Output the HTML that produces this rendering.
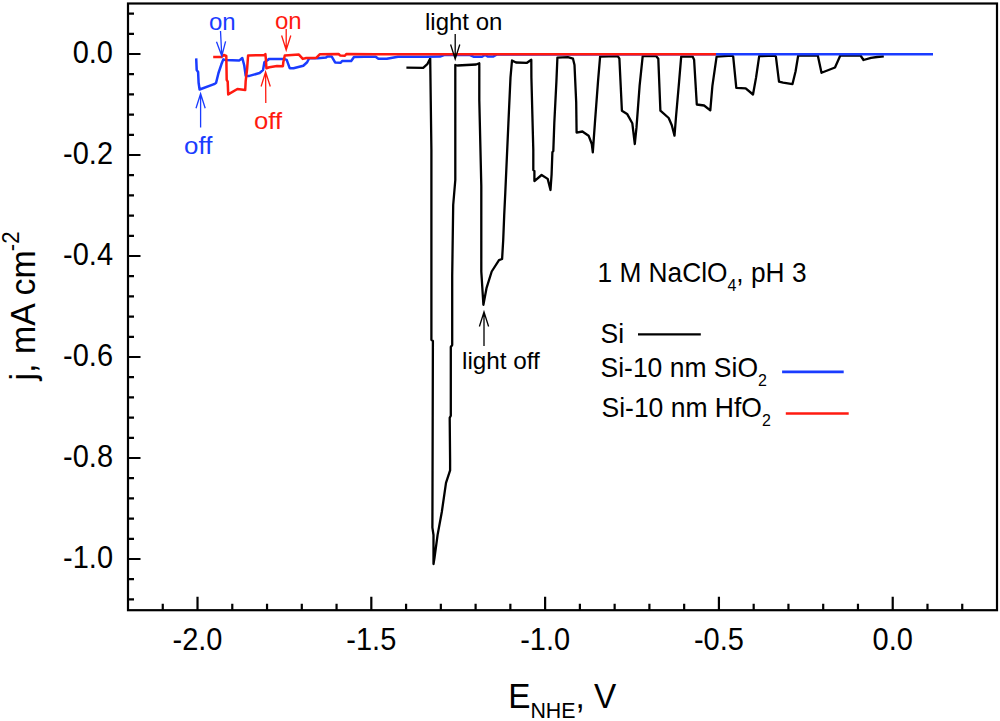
<!DOCTYPE html>
<html><head><meta charset="utf-8"><style>
html,body{margin:0;padding:0;background:#fff;}
svg{display:block;}
text{font-family:"Liberation Sans",sans-serif;}
</style></head><body>
<svg width="1000" height="721" viewBox="0 0 1000 721">
<rect width="1000" height="721" fill="#fff"/>
<polyline points="406.4,67.7 423.2,67.9 427.3,64.2 430.2,58.4 431.4,150.0 431.4,339.8 432.9,341.0 432.4,527.6 433.5,535.0 433.5,564.0 434.5,557.8 437.6,534.9 441.8,512.0 446.0,482.9 450.1,470.4 450.1,460.0 449.7,417.8 450.8,415.7 450.8,347.0 452.2,345.0 452.2,275.7 453.2,205.0 455.3,180.0 455.3,65.0 457.4,65.5 476.1,64.5 479.3,63.3 479.3,100.3 481.3,186.2 481.3,271.5 483.4,304.8 486.5,288.2 491.7,271.5 499.0,260.1 502.1,259.0 503.2,240.3 504.2,215.4 505.3,192.5 508.4,123.2 510.5,77.4 512.0,60.5 516.0,62.5 527.0,62.8 531.3,59.8 531.4,77.4 533.3,150.0 533.3,170.0 534.4,171.1 534.4,181.1 541.6,175.0 547.7,178.9 550.5,190.0 551.6,174.4 552.4,152.2 553.3,151.1 554.3,123.2 556.4,81.6 557.4,57.7 567.8,57.1 573.0,58.7 574.5,65.0 576.2,102.4 576.6,132.6 582.4,131.5 588.6,135.7 591.8,144.0 592.8,152.3 594.9,123.2 598.0,81.6 600.1,56.6 617.8,56.2 619.4,58.7 621.9,110.7 627.1,113.9 632.3,123.2 634.8,144.0 636.5,127.4 639.6,85.8 642.7,56.2 656.3,56.2 658.3,58.7 660.4,110.7 668.7,118.0 671.8,125.3 674.5,135.7 676.0,117.0 679.1,81.6 681.2,56.6 692.6,56.6 694.1,59.8 696.8,104.5 704.1,105.5 710.3,110.3 712.4,85.8 716.6,56.6 732.2,55.6 733.2,56.6 736.3,87.8 745.7,88.3 753.0,94.5 756.1,77.4 759.2,56.2 774.8,55.6 775.9,56.6 779.0,81.6 783.1,82.6 792.5,84.1 795.6,71.2 798.2,55.5 817.8,55.5 821.5,72.8 835.0,67.5 840.3,55.5 860.5,55.5 863.5,60.0 871.0,57.8 877.0,57.0 883.8,56.3" fill="none" stroke="#000" stroke-width="2.3" stroke-linejoin="round"/>
<polyline points="196.2,58.4 196.7,70.1 198.1,72.0 198.6,82.7 199.6,89.5 214.1,84.2 216.1,82.7 218.5,73.0 221.4,64.3 223.3,59.4 224.8,59.9 239.4,60.4 242.3,58.0 244.2,65.2 245.7,75.9 249.4,75.9 259.6,73.0 263.0,70.1 264.4,62.3 269.3,58.9 283.8,58.9 286.7,59.9 289.7,68.2 293.5,68.2 303.3,65.7 307.1,62.3 309.2,58.2 317.6,58.2 326.0,57.5 327.4,56.4 331.6,56.4 335.1,62.4 340.7,62.7 342.1,61.0 351.2,61.0 354.0,57.1 364.5,56.8 375.6,56.7 378.4,58.8 386.8,58.8 398.0,56.7 426.0,56.7 440.0,56.6 444.0,55.0 470.0,55.0 474.0,56.8 482.0,56.8 485.0,55.0 488.0,56.6 493.0,56.6 497.0,54.5 716.0,54.3 933.0,54.3" fill="none" stroke="#1a3cff" stroke-width="2.5" stroke-linejoin="round"/>
<polyline points="213.2,57.0 221.4,57.0 223.8,55.0 226.3,56.0 226.7,79.8 227.7,81.7 228.2,94.4 237.4,89.0 245.2,90.0 245.7,80.8 247.1,69.1 248.1,55.5 264.4,55.0 265.4,54.1 265.9,59.4 266.4,68.2 269.3,67.2 277.0,66.0 282.9,66.2 283.3,62.3 284.8,55.5 298.9,54.6 302.8,58.9 306.2,58.0 314.9,58.0 316.2,57.8 319.7,54.3 338.6,54.0 340.0,55.4 344.9,55.7 346.3,54.0 375.0,54.3 716.0,54.3" fill="none" stroke="#ff1a10" stroke-width="2.5" stroke-linejoin="round"/>
<rect x="128.0" y="3.5" width="869.0" height="606.7" fill="none" stroke="#000" stroke-width="2.2"/>
<path d="M162.76 610.20V603.70M197.52 610.20V596.70M232.28 610.20V603.70M267.04 610.20V603.70M301.80 610.20V603.70M336.56 610.20V603.70M371.32 610.20V596.70M406.08 610.20V603.70M440.84 610.20V603.70M475.60 610.20V603.70M510.36 610.20V603.70M545.12 610.20V596.70M579.88 610.20V603.70M614.64 610.20V603.70M649.40 610.20V603.70M684.16 610.20V603.70M718.92 610.20V596.70M753.68 610.20V603.70M788.44 610.20V603.70M823.20 610.20V603.70M857.96 610.20V603.70M892.72 610.20V596.70M927.48 610.20V603.70M962.24 610.20V603.70M128.00 599.40H134.00M128.00 579.20H134.00M128.00 559.00H140.50M128.00 538.80H134.00M128.00 518.60H134.00M128.00 498.40H134.00M128.00 478.20H134.00M128.00 458.00H140.50M128.00 437.80H134.00M128.00 417.60H134.00M128.00 397.40H134.00M128.00 377.20H134.00M128.00 357.00H140.50M128.00 336.80H134.00M128.00 316.60H134.00M128.00 296.40H134.00M128.00 276.20H134.00M128.00 256.00H140.50M128.00 235.80H134.00M128.00 215.60H134.00M128.00 195.40H134.00M128.00 175.20H134.00M128.00 155.00H140.50M128.00 134.80H134.00M128.00 114.60H134.00M128.00 94.40H134.00M128.00 74.20H134.00M128.00 54.00H140.50M128.00 33.80H134.00M128.00 13.60H134.00" stroke="#000" stroke-width="2.2" fill="none"/>
<g font-size="29" fill="#000"><text transform="translate(113 62.5) scale(1 1.065)" text-anchor="end">0.0</text><text transform="translate(113 163.5) scale(1 1.065)" text-anchor="end">-0.2</text><text transform="translate(113 264.5) scale(1 1.065)" text-anchor="end">-0.4</text><text transform="translate(113 365.5) scale(1 1.065)" text-anchor="end">-0.6</text><text transform="translate(113 466.5) scale(1 1.065)" text-anchor="end">-0.8</text><text transform="translate(113 567.5) scale(1 1.065)" text-anchor="end">-1.0</text><text transform="translate(197.5 650) scale(1 1.065)" text-anchor="middle">-2.0</text><text transform="translate(371.3 650) scale(1 1.065)" text-anchor="middle">-1.5</text><text transform="translate(545.1 650) scale(1 1.065)" text-anchor="middle">-1.0</text><text transform="translate(718.9 650) scale(1 1.065)" text-anchor="middle">-0.5</text><text transform="translate(892.7 650) scale(1 1.065)" text-anchor="middle">0.0</text></g>
<text transform="translate(508.2 708) scale(0.98 1.035)" font-size="34" fill="#000">E<tspan font-size="21.8" dy="9.9">NHE</tspan><tspan dy="-9.9">, V</tspan></text>
<text transform="translate(35.3 380.5) rotate(-90) scale(1 1.05)" font-size="34">j, mA cm<tspan font-size="22" dx="-1" dy="-16">-2</tspan></text>
<text transform="translate(425 29.7) scale(1.0 1.02)" font-size="24" fill="#000">light on</text>
<text transform="translate(462 369.3) scale(1.0 1.02)" font-size="24.3" fill="#000">light off</text>
<text transform="translate(209 29.9) scale(1.0 1.0)" font-size="24" fill="#1a3cff">on</text>
<text transform="translate(184 154.1) scale(1.08 1.0)" font-size="24" fill="#1a3cff">off</text>
<text transform="translate(275 28.6) scale(1.0 1.0)" font-size="24" fill="#ff1a10">on</text>
<text transform="translate(254 128.8) scale(1.07 1.0)" font-size="24" fill="#ff1a10">off</text>
<path d="M455.2 34.0L455.2 59.0M450.6 44.5L455.2 59.0L459.8 44.5" stroke="#000" stroke-width="1.3" fill="none"/>
<path d="M484.0 346.0L484.0 312.0M488.6 326.5L484.0 312.0L479.4 326.5" stroke="#000" stroke-width="1.3" fill="none"/>
<path d="M220.5 31.0L221.8 56.0M216.5 41.8L221.8 56.0L225.6 41.3" stroke="#1a3cff" stroke-width="1.3" fill="none"/>
<path d="M200.6 127.5L200.6 93.7M205.2 108.2L200.6 93.7L196.0 108.2" stroke="#1a3cff" stroke-width="1.3" fill="none"/>
<path d="M286.2 29.0L286.2 50.0M281.6 35.5L286.2 50.0L290.8 35.5" stroke="#ff1a10" stroke-width="1.3" fill="none"/>
<path d="M265.8 103.0L265.6 72.0M270.3 86.5L265.6 72.0L261.1 86.5" stroke="#ff1a10" stroke-width="1.3" fill="none"/>
<text transform="translate(597.5 282.2) scale(1.0 1.07)" font-size="26.3" fill="#000">1 M NaClO<tspan font-size="16" dy="8.4">4</tspan><tspan dy="-8.4">, pH 3</tspan></text>
<text transform="translate(600.5 342.7) scale(1.0 1.06)" font-size="26.5" fill="#000">Si</text>
<text transform="translate(600.5 377) scale(1.0 1.06)" font-size="26.5" fill="#000">Si-10 nm SiO<tspan font-size="16" dy="8.4">2</tspan></text>
<text transform="translate(601.5 417.3) scale(1.0 1.06)" font-size="26.5" fill="#000">Si-10 nm HfO<tspan font-size="16" dy="8.4">2</tspan></text>
<path d="M638 334.4H700.8" stroke="#000" stroke-width="2.4"/>
<path d="M782.1 371.9H843.7" stroke="#1a3cff" stroke-width="2.6"/>
<path d="M785.8 413.5H848.7" stroke="#ff1a10" stroke-width="2.6"/>
</svg>
</body></html>
